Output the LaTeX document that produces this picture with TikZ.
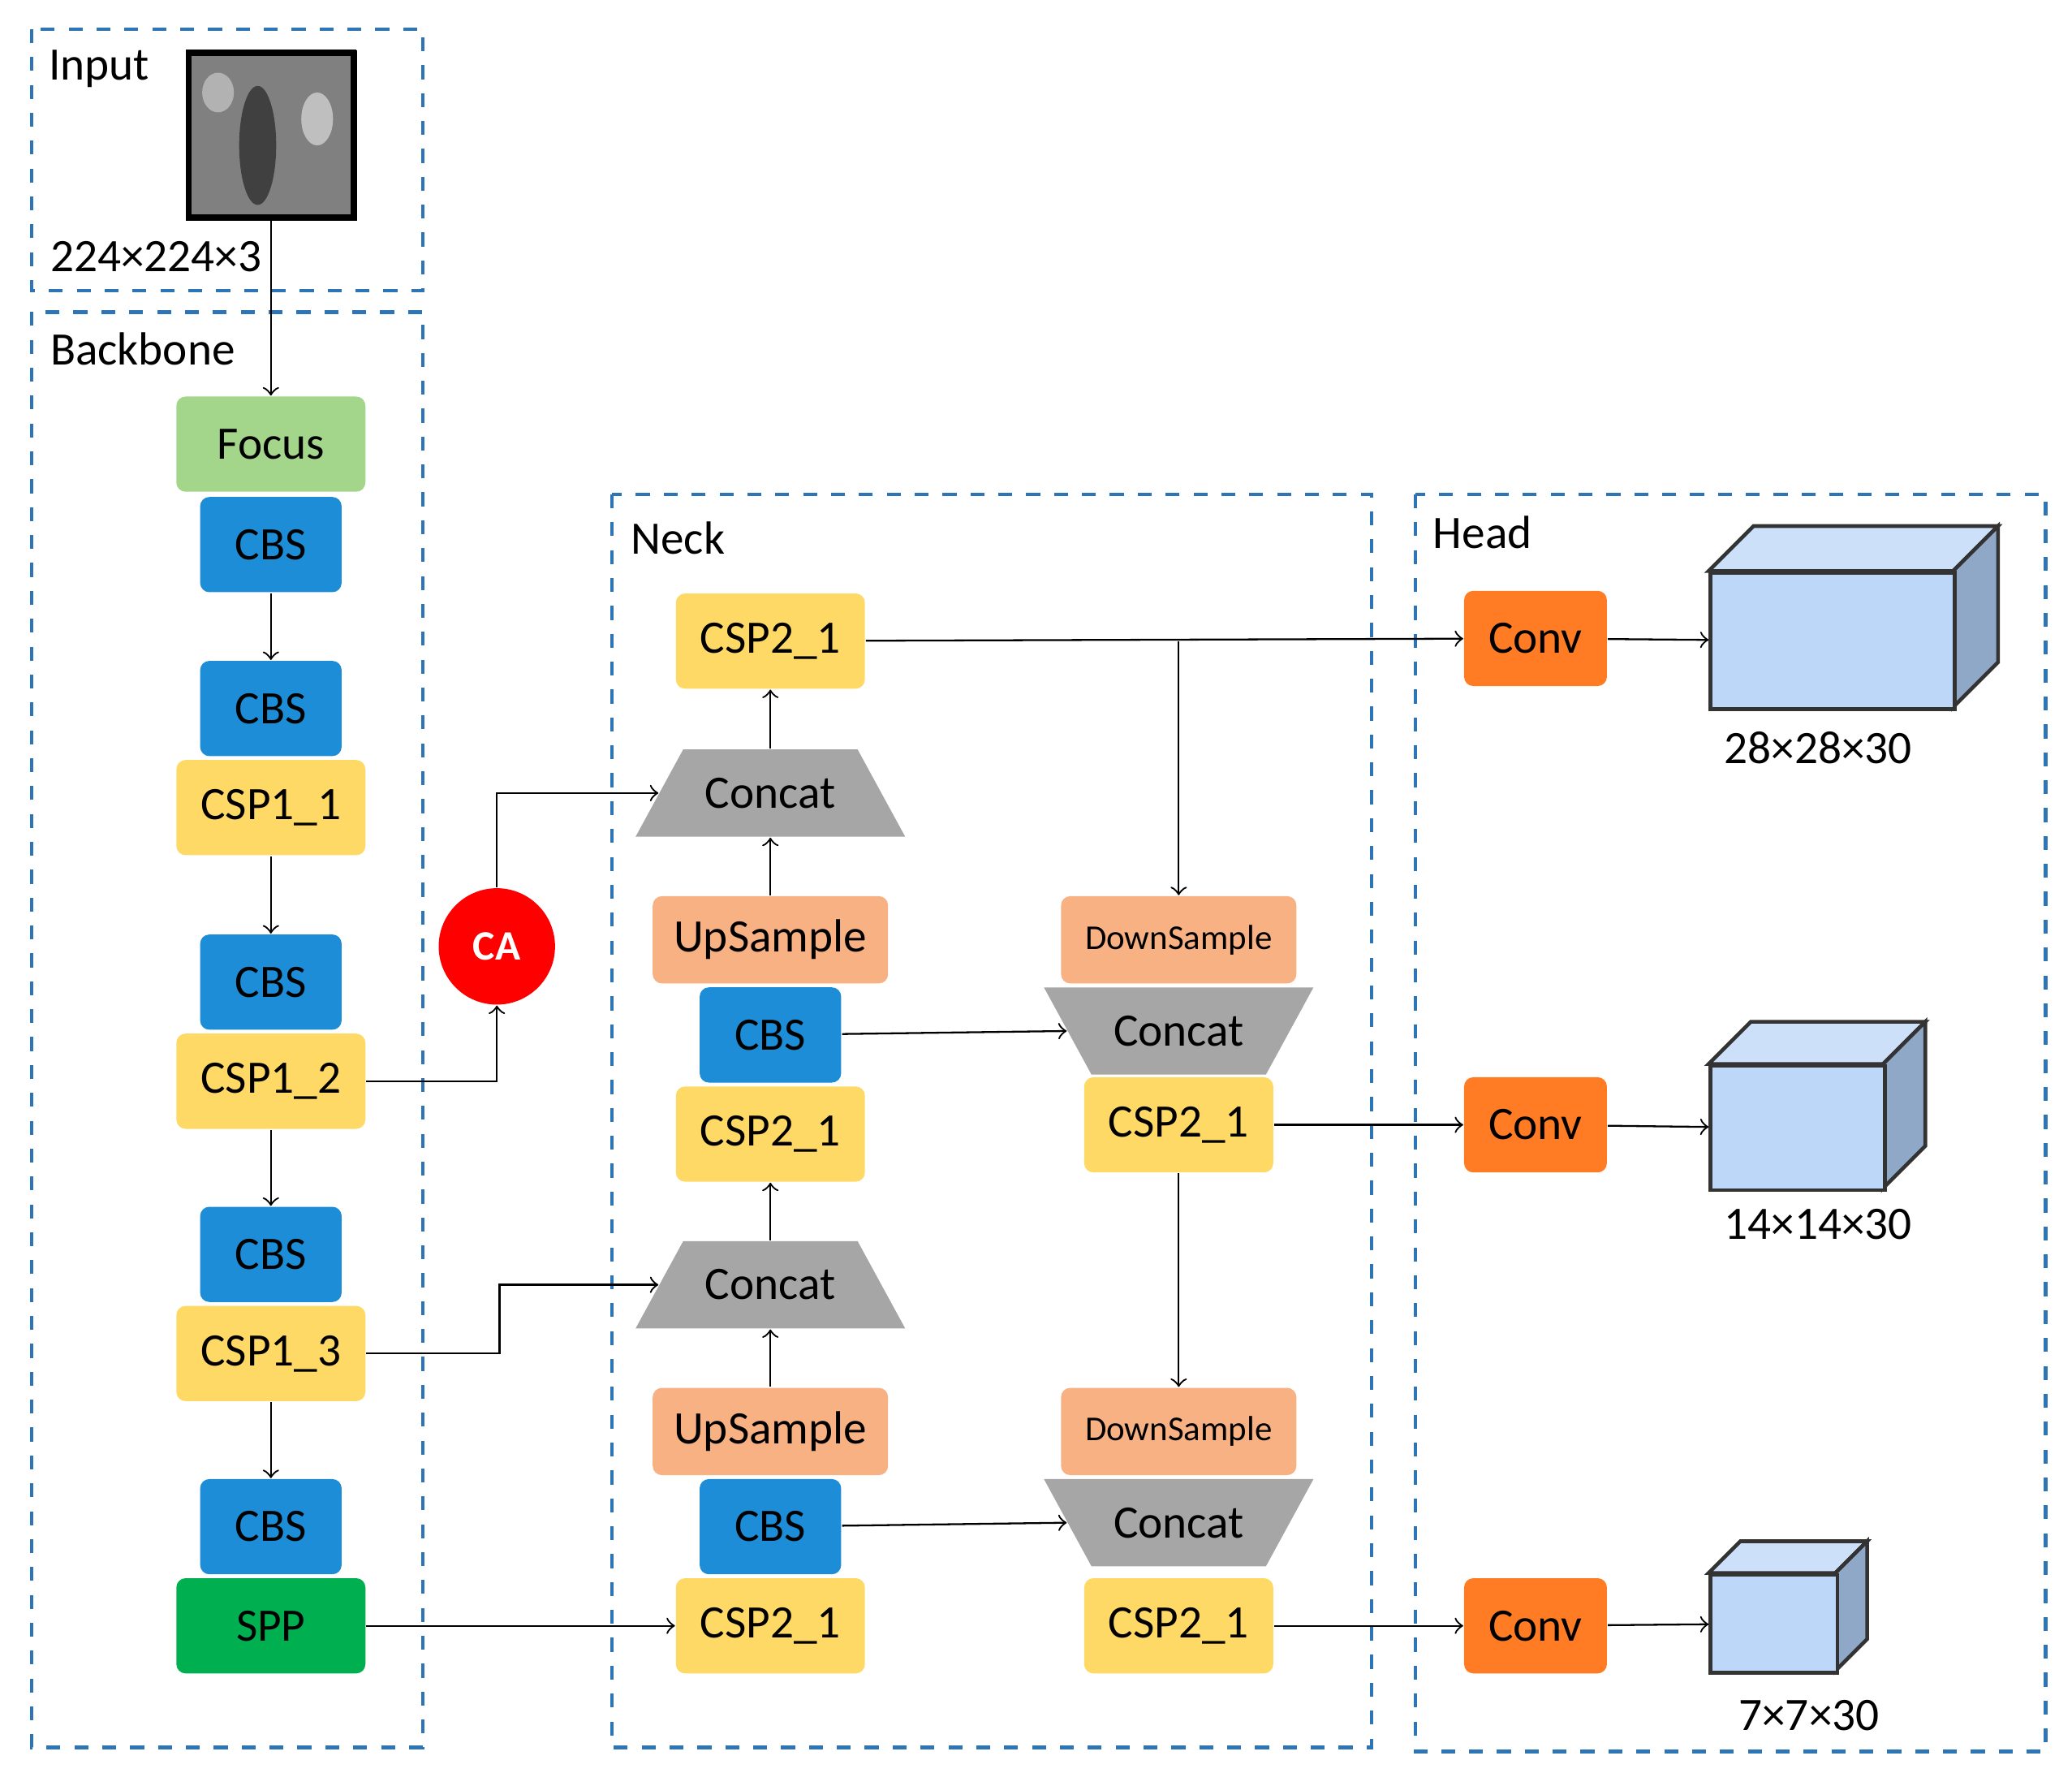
\documentclass[tikz,border=0pt]{standalone}
\usepackage{fontspec}
\setmainfont{Carlito}
\usetikzlibrary{positioning}
\definecolor{cbsblue}{HTML}{1C8DD6}
\definecolor{cspyellow}{HTML}{FFD966}
\definecolor{focusgreen}{HTML}{A3D68A}
\definecolor{sppgreen}{HTML}{00B050}
\definecolor{samplesalmon}{HTML}{F8B183}
\definecolor{convorange}{HTML}{FF7C25}
\definecolor{boxblue}{HTML}{2E75B6}
\definecolor{cubefront}{HTML}{BDD7F8}
\definecolor{cubetop}{HTML}{CCE0FA}
\definecolor{cubeside}{HTML}{8FA8C8}
% concat trapezoid: name, x, y, sign (1 = wide at bottom, -1 = wide at top)
\newcommand{\concatnode}[4]{%
  \fill[black!35] (#2-66,#3-33*#4) -- (#2+66,#3-33*#4) -- (#2+102,#3+33*#4) -- (#2-102,#3+33*#4) -- cycle;
  \node[concat] (#1) at (#2,#3) {Concat};}
\begin{document}
\begin{tikzpicture}[x=0.01cm, y=-0.01cm, font=\fontsize{10}{12}\selectfont,
block/.style={rectangle, rounded corners=0.07cm, draw=none, inner sep=0, minimum height=0.72cm},
cbs/.style={block, fill=cbsblue, minimum width=1.07cm},
csp/.style={block, fill=cspyellow, minimum width=1.43cm},
wide/.style={block, fill=#1, minimum width=1.43cm},
sample/.style={block, fill=samplesalmon, minimum width=1.78cm, minimum height=0.66cm},
conv/.style={block, fill=convorange, minimum width=1.08cm},
concat/.style={rectangle, inner sep=0, minimum width=1.68cm, minimum height=0.66cm},
region/.style={draw=boxblue, dashed, thick},
arr/.style={->, thin},
]
\useasboundingbox (0,0) rectangle (1568,1351);
% regions
\draw[region] (24,22) rectangle (320,220);
\draw[region] (24,236) rectangle (320,1322);
\draw[region] (463,374) rectangle (1038,1322);
\draw[region] (1071,374) rectangle (1548,1325);
\node at (75,52) {Input};
\node at (108,264) {Backbone};
\node at (513,407) {Neck};
\node at (1122,403) {Head};
% input image
\node[draw, very thick, fill=black!50, minimum size=1.25cm, inner sep=0] (img) at (205,102) {};
\fill[black!75] (195,110) ellipse (14 and 45);
\fill[black!25] (240,90) ellipse (12 and 20);
\fill[black!30] (165,70) ellipse (12 and 15);
\draw[very thick] (143,40) rectangle (268,165);
\node at (118,194) {224×224×3};
% backbone
\node[wide=focusgreen] (focus) at (205,336) {Focus};
\node[cbs] (cbsa) at (205,412) {CBS};
\node[cbs] (cbsb) at (205,536) {CBS};
\node[csp] (csp11) at (205,611) {CSP1\_1};
\node[cbs] (cbsc) at (205,743) {CBS};
\node[csp] (csp12) at (205,818) {CSP1\_2};
\node[cbs] (cbsd) at (205,949) {CBS};
\node[csp] (csp13) at (205,1024) {CSP1\_3};
\node[cbs] (cbse) at (205,1155) {CBS};
\node[wide=sppgreen] (spp) at (205,1230) {SPP};
\node[circle, fill=red, minimum size=0.88cm, inner sep=0, text=white, font=\fontsize{9}{11}\selectfont\bfseries] (ca) at (376,716) {CA};
% neck
\node[csp] (ncsp1) at (583,485) {CSP2\_1};
\concatnode{ncat1}{583}{600}{1}
\node[sample] (up1) at (583,711) {UpSample};
\node[cbs] (ncbs1) at (583,783) {CBS};
\node[csp] (ncsp2) at (583,858) {CSP2\_1};
\concatnode{ncat2}{583}{972}{1}
\node[sample] (up2) at (583,1083) {UpSample};
\node[cbs] (ncbs2) at (583,1155) {CBS};
\node[csp] (ncsp3) at (583,1230) {CSP2\_1};
\node[sample, font=\fontsize{7.5}{9}\selectfont] (down1) at (892,711) {DownSample};
\concatnode{rcat1}{892}{780}{-1}
\node[csp] (rcsp1) at (892,851) {CSP2\_1};
\node[sample, font=\fontsize{7.5}{9}\selectfont] (down2) at (892,1083) {DownSample};
\concatnode{rcat2}{892}{1152}{-1}
\node[csp] (rcsp2) at (892,1230) {CSP2\_1};
% head
\node[conv] (conv1) at (1162,483) {Conv};
\node[conv] (conv2) at (1162,851) {Conv};
\node[conv] (conv3) at (1162,1230) {Conv};
\foreach \n/\x/\y/\w/\h/\d/\lab/\lx/\ly in {cubea/1293/432/185/103/34/28×28×30/1376/566, cubeb/1293/805/132/94/32/14×14×30/1376/926, cubec/1293/1190/96/74/24/7×7×30/1369/1298}{
  \fill[cubetop, draw=black!80, thick] (\x,\y) -- ++(\d,-\d) -- ++(\w,0) -- ++(-\d,\d) -- cycle;
  \fill[cubeside, draw=black!80, thick] (\x+\w,\y) -- ++(\d,-\d) -- ++(0,\h) -- ++(-\d,\d) -- cycle;
  \node[rectangle, fill=cubefront, draw=black!80, thick, inner sep=0, minimum width=\w*0.01cm, minimum height=\h*0.01cm, anchor=north west] (\n) at (\x,\y) {};
  \node at (\lx,\ly) {\lab};
}
% connectors
\draw[arr] (img.south) -- (focus.north);
\draw[arr] (cbsa) -- (cbsb);
\draw[arr] (csp11) -- (cbsc);
\draw[arr] (csp12) -- (cbsd);
\draw[arr] (csp13) -- (cbse);
\draw[arr] (csp12.east) -| (ca.south);
\draw[arr] (ca.north) |- (ncat1.west);
\draw[arr] (csp13.east) -- (378,1024) |- (ncat2.west);
\draw[arr] (spp) -- (ncsp3);
\draw[arr] (ncat1) -- (ncsp1);
\draw[arr] (up1) -- (ncat1);
\draw[arr] (ncat2) -- (ncsp2);
\draw[arr] (up2) -- (ncat2);
\draw[arr] (ncsp1) -- (conv1);
\coordinate (split) at (892,485);
\draw[arr] (split) -- (down1);
\draw[arr] (ncbs1) -- (rcat1.west);
\draw[arr] (ncbs2) -- (rcat2.west);
\draw[arr] (rcsp1) -- (conv2);
\draw[arr] (rcsp1) -- (down2);
\draw[arr] (rcsp2) -- (conv3);
\draw[arr] (conv1) -- (cubea);
\draw[arr] (conv2) -- (cubeb);
\draw[arr] (conv3) -- (cubec);
\end{tikzpicture}
\end{document}
